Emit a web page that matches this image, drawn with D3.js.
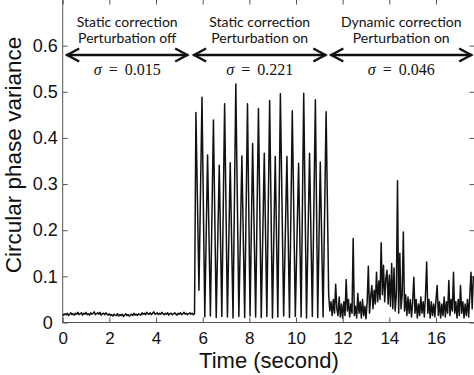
<!DOCTYPE html>
<html>
<head>
<meta charset="utf-8">
<script src="https://cdn.jsdelivr.net/npm/d3@7/dist/d3.min.js"></script>
<style>
  body { margin: 0; background: #fff; }
  svg { display: block; }
  .tick text { font-family: "Liberation Sans", Arial, sans-serif; fill: #111; }
</style>
</head>
<body>
<div id="chart"></div>
<script>
// figure size
var svgWidth = 474;
var svgHeight = 375;

// phase 1: static correction, perturbation off (sampled every 0.05 s from t = 0)
var offStart = 0;
var offStep = 0.05;
var offValues = [
  0.018,0.016,0.019,0.017,0.020,0.015,0.018,0.021,0.017,0.019,
  0.016,0.020,0.018,0.022,0.017,0.019,0.021,0.016,0.020,0.018,
  0.022,0.017,0.019,0.016,0.021,0.018,0.020,0.023,0.017,0.019,
  0.021,0.018,0.022,0.016,0.019,0.020,0.017,0.021,0.018,0.016,
  0.019,0.015,0.017,0.014,0.018,0.016,0.015,0.019,0.014,0.017,
  0.015,0.018,0.013,0.016,0.019,0.015,0.017,0.014,0.016,0.018,
  0.015,0.020,0.016,0.018,0.015,0.019,0.017,0.016,0.021,0.018,
  0.020,0.017,0.022,0.019,0.018,0.021,0.017,0.020,0.023,0.018,
  0.019,0.021,0.017,0.020,0.018,0.022,0.019,0.017,0.020,0.018,
  0.021,0.016,0.019,0.020,0.017,0.019,0.021,0.018,0.016,0.020,
  0.018,0.021,0.017,0.019,0.022,0.018,0.020,0.017,0.019,0.021,
  0.018,0.020,0.017,0.019
];

// phase 2: static correction, perturbation on (peaks and troughs)
var peakTimes = [5.71,5.97,6.21,6.46,6.71,6.94,7.18,7.42,7.68,7.92,8.14,8.39,
                 8.64,8.87,9.11,9.33,9.61,9.84,10.11,10.33,10.58,10.83,11.04,11.29];
var peakValues = [0.455,0.488,0.363,0.439,0.341,0.474,0.346,0.517,0.361,0.474,0.388,0.464,
                  0.367,0.481,0.360,0.496,0.360,0.459,0.345,0.497,0.367,0.483,0.348,0.457];
var troughTimes = [5.84,6.09,6.33,6.58,6.82,7.06,7.30,7.55,7.80,8.03,8.27,8.51,
                   8.75,8.99,9.22,9.47,9.72,9.97,10.22,10.45,10.70,10.93,11.16];
var troughValues = [0.070,0.012,0.014,0.011,0.013,0.012,0.010,0.013,0.011,0.014,0.012,0.011,
                    0.013,0.010,0.012,0.014,0.011,0.013,0.012,0.010,0.013,0.011,0.012];

// phase 3: dynamic correction, perturbation on (sampled every 0.05 s from t = 11.40)
var dynStart = 11.40;
var dynStep = 0.05;
var dynValues = [
  0.060,0.025,0.045,0.015,0.050,0.020,0.083,0.030,0.015,0.055,
  0.012,0.040,0.010,0.045,0.015,0.093,0.025,0.050,0.012,0.040,
  0.020,0.182,0.015,0.035,0.010,0.063,0.020,0.045,0.010,0.050,
  0.015,0.035,0.008,0.045,0.122,0.020,0.055,0.080,0.030,0.070,
  0.040,0.109,0.045,0.090,0.050,0.173,0.060,0.124,0.045,0.095,
  0.113,0.040,0.103,0.035,0.128,0.030,0.118,0.025,0.060,0.307,
  0.020,0.150,0.030,0.060,0.196,0.025,0.060,0.015,0.055,0.020,
  0.050,0.012,0.045,0.098,0.020,0.050,0.010,0.040,0.015,0.055,
  0.020,0.045,0.012,0.060,0.131,0.020,0.050,0.010,0.045,0.015,
  0.040,0.012,0.050,0.080,0.015,0.045,0.010,0.040,0.015,0.055,
  0.012,0.045,0.020,0.091,0.015,0.050,0.025,0.109,0.020,0.045,
  0.010,0.050,0.015,0.080,0.020,0.045,0.010,0.040,0.015,0.050,
  0.012,0.060,0.109,0.030,0.100
];

// annotation texts, arrow spans in seconds
var phaseTitles = [["Static correction", "Perturbation off"],
                   ["Static correction", "Perturbation on"],
                   ["Dynamic correction", "Perturbation on"]];
var phaseSigma = ["0.015", "0.221", "0.046"];
var phaseSpans = [[0.15, 5.38], [5.59, 11.30], [11.47, 17.55]];

var xTicks = [0, 2, 4, 6, 8, 10, 12, 14, 16];
var yTicks = [0, 0.1, 0.2, 0.3, 0.4, 0.5, 0.6];

// build one series
var series = [];
offValues.forEach(function (v, i) { series.push({ t: offStart + i * offStep, v: v }); });
peakTimes.forEach(function (t, i) {
    series.push({ t: t, v: peakValues[i] });
    if (i < troughTimes.length) series.push({ t: troughTimes[i], v: troughValues[i] });
});
dynValues.forEach(function (v, i) { series.push({ t: dynStart + i * dynStep, v: v }); });

var svg = d3.select("#chart")
    .append("svg")
    .attr("width", svgWidth)
    .attr("height", svgHeight);

var x = d3.scaleLinear().domain([0, 17.65]).range([62.7, 474.5]);
var y = d3.scaleLinear().domain([0, 0.7]).range([322.5, -0.5]);

// frame
svg.append("rect")
    .attr("x", x(0))
    .attr("y", y(0.7))
    .attr("width", x(17.65) - x(0))
    .attr("height", y(0) - y(0.7))
    .attr("fill", "none")
    .attr("stroke", "#555")
    .attr("stroke-width", 1);

// axes, ticks pointing inward
var bottomAxis = d3.axisBottom(x).tickValues(xTicks).tickSizeInner(-5).tickSizeOuter(0).tickPadding(9);
var leftAxis = d3.axisLeft(y).tickValues(yTicks).tickSizeInner(-5).tickSizeOuter(0).tickPadding(5)
    .tickFormat(d3.format(""));
var topAxis = d3.axisTop(x).tickValues(xTicks).tickSizeInner(-5).tickSizeOuter(0).tickFormat("");
var rightAxis = d3.axisRight(y).tickValues(yTicks).tickSizeInner(-5).tickSizeOuter(0).tickFormat("");

var gb = svg.append("g").attr("transform", `translate(0, ${y(0)})`).call(bottomAxis);
gb.selectAll("text").style("font-size", "17px");
var gl = svg.append("g").attr("transform", `translate(${x(0)}, 0)`).call(leftAxis);
gl.selectAll("text").style("font-size", "18px");
// the bare "0" sits a little further left, like the original
gl.selectAll("text").filter(d => d === 0).attr("dx", -5);
svg.append("g").attr("transform", `translate(0, ${y(0.7)})`).call(topAxis);
svg.append("g").attr("transform", `translate(${x(17.65)}, 0)`).call(rightAxis);
svg.selectAll(".domain").remove();
svg.selectAll(".tick line").attr("stroke", "#555");

// data line
var line = d3.line().x(d => x(d.t)).y(d => y(d.v));
svg.append("path")
    .datum(series)
    .attr("d", line)
    .attr("fill", "none")
    .attr("stroke", "#111")
    .attr("stroke-width", 1.5)
    .attr("stroke-linejoin", "round");

// axis labels
svg.append("text")
    .attr("x", 269)
    .attr("y", 368)
    .attr("text-anchor", "middle")
    .style("font-family", "'Liberation Sans', Arial, sans-serif")
    .style("font-size", "22px")
    .attr("fill", "#111")
    .text("Time (second)");

svg.append("text")
    .attr("transform", "rotate(-90)")
    .attr("x", -155)
    .attr("y", 20.5)
    .attr("text-anchor", "middle")
    .style("font-family", "'Liberation Sans', Arial, sans-serif")
    .style("font-size", "22.5px")
    .attr("fill", "#111")
    .text("Circular phase variance");

// phase annotations
var arrowY = 55;
var notes = svg.append("g");
phaseTitles.forEach(function (lines, i) {
    var a = [x(phaseSpans[i][0]), x(phaseSpans[i][1])];
    var cx = (a[0] + a[1]) / 2;
    lines.forEach(function (s, j) {
        notes.append("text")
            .attr("x", cx)
            .attr("y", 27 + j * 16)
            .attr("text-anchor", "middle")
            .style("font-family", "Lato, 'Open Sans', sans-serif")
            .style("font-size", "14px")
            .attr("fill", "#111")
            .text(s);
    });
    notes.append("line")
        .attr("x1", a[0]).attr("x2", a[1])
        .attr("y1", arrowY).attr("y2", arrowY)
        .attr("stroke", "#111").attr("stroke-width", 2.4);
    notes.append("polyline")
        .attr("points", `${a[0] + 13},${arrowY - 6.5} ${a[0] + 1},${arrowY} ${a[0] + 13},${arrowY + 6.5}`)
        .attr("fill", "none").attr("stroke", "#111").attr("stroke-width", 2.4);
    notes.append("polyline")
        .attr("points", `${a[1] - 13},${arrowY - 6.5} ${a[1] - 1},${arrowY} ${a[1] - 13},${arrowY + 6.5}`)
        .attr("fill", "none").attr("stroke", "#111").attr("stroke-width", 2.4);

    var st = notes.append("text")
        .attr("x", cx)
        .attr("y", 75)
        .attr("text-anchor", "middle")
        .style("font-family", "'Liberation Serif', 'DejaVu Serif', serif")
        .style("font-size", "16px")
        .style("word-spacing", "3px")
        .attr("fill", "#111");
    st.append("tspan").style("font-style", "italic").text("σ");
    st.append("tspan").text(" = " + phaseSigma[i]);
});
</script>
</body>
</html>
